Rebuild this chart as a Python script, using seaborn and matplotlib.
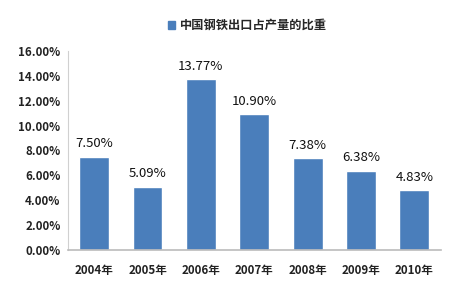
import matplotlib
matplotlib.use("Agg")
import matplotlib.pyplot as plt
import seaborn as sns
import pandas as pd
from matplotlib.ticker import FuncFormatter
from matplotlib.patches import Patch

years = ["2004年", "2005年", "2006年", "2007年", "2008年", "2009年", "2010年"]
values = [7.50, 5.09, 13.77, 10.90, 7.38, 6.38, 4.83]
series_name = "中国钢铁出口占产量的比重"

sns.set_style("white")
plt.rcParams['font.family'] = ['Noto Sans CJK SC', 'DejaVu Sans']

df = pd.DataFrame({"year": years, "value": values})

fig = plt.figure(figsize=(4.5, 3), dpi=100)
ax = fig.add_axes([0.15, 0.167, 0.83, 0.663])
color = "#4A7EBB"
sns.barplot(data=df, x="year", y="value", color=color, width=0.56, ax=ax, saturation=1)

ax.set_ylim(0, 16)
ax.set_yticks([0, 2, 4, 6, 8, 10, 12, 14, 16])
ax.yaxis.set_major_formatter(FuncFormatter(lambda v, p: f"{v:.2f}%"))
ax.set_xlabel("")
ax.set_ylabel("")
for lab in ax.get_xticklabels() + ax.get_yticklabels():
    lab.set_fontsize(8.3)
    lab.set_fontweight("bold")
    lab.set_color("#222222")
ax.tick_params(axis="both", length=0, pad=5)
ax.tick_params(axis="x", pad=10)

for s in ["top", "right"]:
    ax.spines[s].set_visible(False)
ax.spines["left"].set_color("#D0D0D0")
ax.spines["bottom"].set_color("#BBBBBB")
ax.spines["bottom"].set_linewidth(1.2)

for i, v in enumerate(values):
    ax.text(i, v + 0.5, f"{v:.2f}%", ha="center", va="bottom", fontsize=9.5, color="#111111")

handles = [Patch(facecolor=color, edgecolor=color)]
leg = fig.legend(handles, [series_name], loc="center", bbox_to_anchor=(0.55, 0.915), frameon=False,
                 prop={"size": 8.8, "weight": "bold"}, handlelength=0.6, handleheight=0.6, handletextpad=0.4)

fig.savefig("out.png", dpi=100, facecolor="white")
